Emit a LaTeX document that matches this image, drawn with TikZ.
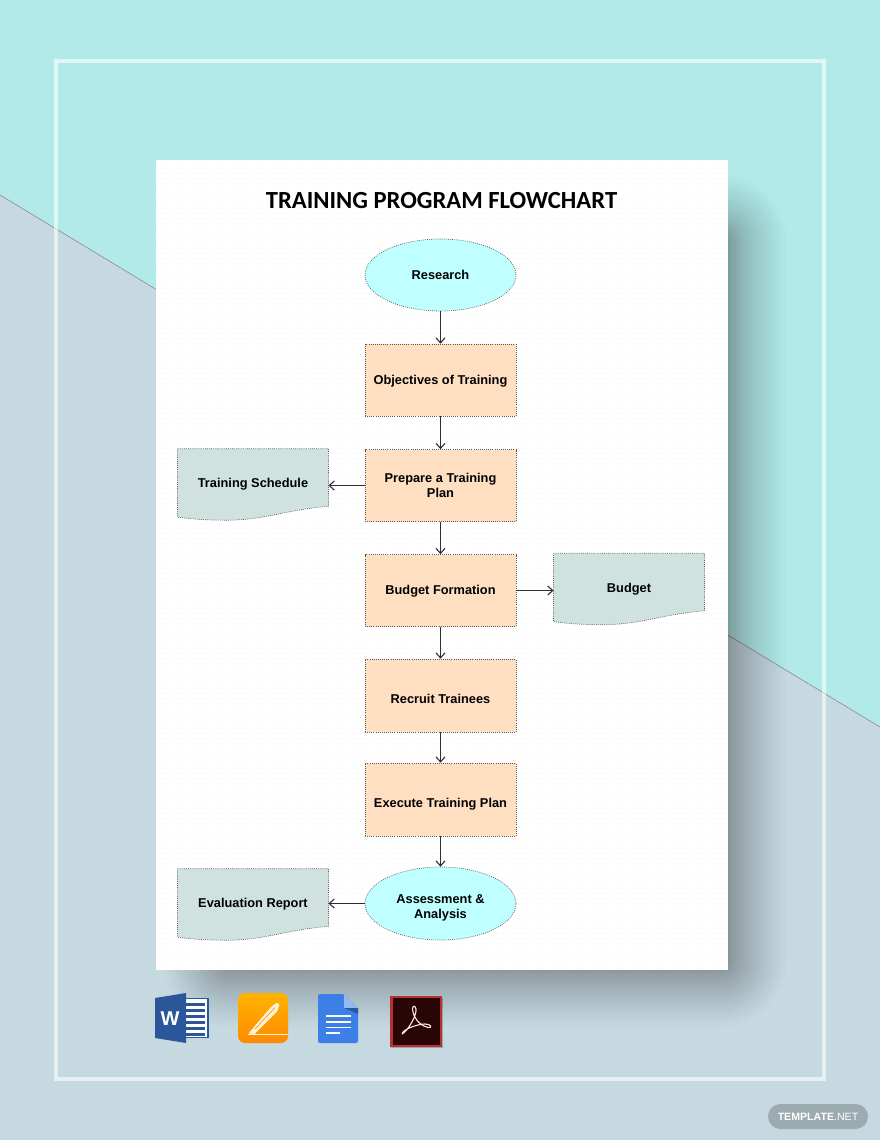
\documentclass[tikz,border=0pt]{standalone}
\usepackage{fontspec}
\setmainfont{Liberation Sans}
\newfontfamily\titlefont{Carlito}
\usetikzlibrary{arrows.meta,calc,shapes.geometric}
\definecolor{teal0}{HTML}{B2E9E9}
\definecolor{slate0}{HTML}{C6D9E0}
\definecolor{ovalfill}{HTML}{BFFFFF}
\definecolor{boxfill}{HTML}{FFDFC2}
\definecolor{docfill}{HTML}{CFE2DF}
\definecolor{edge}{HTML}{5A5A5A}
\definecolor{linkc}{HTML}{2E2E2E}
\definecolor{wordblue}{HTML}{2B579A}
\definecolor{gdoc}{HTML}{3C7FE6}
\definecolor{pgtop}{HTML}{FFB300}
\definecolor{pgbot}{HTML}{FF8A00}
\definecolor{pgpen}{HTML}{FFF3D6}
\definecolor{acrobg}{HTML}{2A0505}
\definecolor{acroedge}{HTML}{B83030}
\newcommand{\tx}[2][-1.5pt]{\raisebox{#1}[\height][\depth]{\begin{tabular}{@{}c@{}}#2\end{tabular}}}
\tikzset{
  lbl/.style={font=\fontsize{12.8}{14.4}\selectfont\bfseries,text=black},
  dotline/.style={draw=edge,line width=.65pt,dash pattern=on .9pt off 1.2pt},
  oval/.style={ellipse,dotline,fill=ovalfill,minimum width=151pt,minimum height=72pt,inner sep=0pt,lbl},
  stepbox/.style={rectangle,dotline,fill=boxfill,minimum width=151pt,minimum height=72pt,inner sep=0pt,lbl},
  docbox/.style={rectangle,minimum width=150.5pt,minimum height=71pt,inner sep=0pt},
  docshape/.style={dotline,fill=docfill},
  link/.style={draw=linkc,line width=1.1pt,-{Straight Barb[length=5pt,width=9pt,line width=1.1pt]}},
}
\newcommand{\docshapeat}[1]{%
  \path[docshape] (#1.north west) -- (#1.north east)
    -- ($(#1.south east)+(0,-14)$)
    .. controls ($(#1.south east)+(-50,-9)$) and ($(#1.south east)+(-60,-1)$) .. ($(#1.south west)+(52,0)$)
    .. controls ($(#1.south west)+(30,0)$) and ($(#1.south west)+(15,-1)$) .. ($(#1.south west)+(0,-3)$)
    -- cycle;}
\begin{document}
\begin{tikzpicture}[x=1pt,y=-1pt]
\useasboundingbox (0,0) rectangle (880,1140);
% background
\fill[teal0] (0,0) rectangle (880,1140);
\fill[slate0] (0,195) -- (880,727) -- (880,1140) -- (0,1140) -- cycle;
\draw[black!45,line width=.6pt] (0,195) -- (880,727);
% frame
\draw[white,opacity=.6,line width=4pt] (56,61) rectangle (824,1079);
% shadow
\foreach \j in {0,...,29}{
  \pgfmathsetmacro{\k}{62*(\j/30)^1.7}
  \pgfmathsetmacro{\r}{\k+8}
  \fill[black,opacity=.0105,rounded corners=\r pt] (222-\k,233-\k) rectangle (728+\k,968+\k);
}
% page
\fill[white] (156,160) rectangle (728,970);
\foreach \y in {163,168,...,968}{
  \draw[black!1.5,line width=.6pt,dash pattern=on 3pt off 2pt] (156,\y) -- (728,\y);
}
\node[font=\titlefont\bfseries\fontsize{24.6}{27}\selectfont,text=black] (title) at (441.5,200.5) {TRAINING PROGRAM FLOWCHART};
% nodes
\node[oval] (research) at (440.5,275) {\tx{Research}};
\node[stepbox] (objectives) at (440.5,380) {\tx{Objectives of Training}};
\node[stepbox] (prepare) at (440.5,485.5) {\tx{Prepare a Training\\Plan}};
\node[stepbox] (budget) at (440.5,590.5) {\tx{Budget Formation}};
\node[stepbox,minimum height=73pt] (recruit) at (440.5,695.5) {\tx[-5pt]{Recruit Trainees}};
\node[stepbox,minimum height=73pt] (execute) at (440.5,799.5) {\tx[-5pt]{Execute Training Plan}};
\node[oval,minimum height=73pt] (assess) at (440.5,903.5) {\tx[-4.5pt]{Assessment \&\\Analysis}};
% documents
\node[docbox] (schedule0) at (253,484.5) {};
\docshapeat{schedule0}
\node[lbl] (schedule) at (253,483) {\tx{Training Schedule}};
\node[docbox] (budgetdoc0) at (629,589) {};
\docshapeat{budgetdoc0}
\node[lbl] (budgetdoc) at (629,588) {\tx{Budget}};
\node[docbox] (report0) at (253,904.5) {};
\docshapeat{report0}
\node[lbl] (report) at (253,903.5) {\tx{Evaluation Report}};
% connectors
\draw[link] (research) -- (objectives);
\draw[link] (objectives) -- (prepare);
\draw[link] (prepare) -- (budget);
\draw[link] (budget) -- (recruit);
\draw[link] (recruit) -- (execute);
\draw[link] (execute) -- (assess);
\draw[link] (prepare.west) -- (prepare.west -| schedule0.east);
\draw[link] (budget.east) -- (budget.east -| budgetdoc0.west);
\draw[link] (assess.west) -- (assess.west -| report0.east);
% Word icon
\fill[white] (184,998) rectangle (208,1038);
\foreach \y in {1003,1009,1015,1021,1027,1033}{\fill[wordblue] (186,\y) rectangle (205,\y+2.6);}
\draw[wordblue,line width=1.4pt] (184,998.7) -- (208,998.7) -- (208,1037.3) -- (184,1037.3);
\fill[wordblue] (155,998) -- (186,993) -- (186,1043) -- (155,1038) -- cycle;
\node[text=white,font=\bfseries\fontsize{20}{20}\selectfont,inner sep=0pt] (wordw) at (170,1018.5) {W};
% Pages icon
\shade[rounded corners=7pt,top color=pgtop,bottom color=pgbot] (238,993) rectangle (288,1043);
\fill[pgpen,rounded corners=1pt] (248.5,1033.5) -- (271,1007) -- (277,1002.5) -- (279.5,1004.5) -- (277.5,1011) -- (254,1034.5) -- cycle;
\draw[pgbot,line width=.6pt] (255,1029) -- (275,1007.5);
\draw[pgpen,line width=1.2pt] (248,1034.5) -- (288,1034.5);
% Docs icon
\fill[gdoc,rounded corners=2pt] (318,994) -- (344,994) -- (358,1008) -- (358,1043) -- (318,1043) -- cycle;
\fill[gdoc!55!white] (344,994) -- (358,1008) -- (344,1008) -- cycle;
\fill[gdoc!70!black] (344,1008) -- (358,1008) -- (358,1014) -- cycle;
\foreach \y/\e in {1015/351,1021/351,1026.5/351,1032/340}{\fill[white] (326,\y) rectangle (\e,\y+1.8);}
% Acrobat icon
\fill[black,opacity=.22] (391,998) rectangle (443,1048);
\draw[fill=acrobg,draw=acroedge,line width=2.4pt] (391.5,997) rectangle (441,1046);
\draw[white!90!red,line width=1.1pt,line join=round]
  (402,1034) .. controls (408,1031) and (417,1015) .. (416,1009)
  .. controls (415,1004) and (411,1006) .. (413,1012)
  .. controls (415,1020) and (421,1026) .. (428,1027.5)
  .. controls (433,1028) and (431,1024) .. (425,1024)
  .. controls (418,1024) and (403,1029) .. (402,1034) -- cycle;
% badge
\fill[black!70!slate0,opacity=.3,rounded corners=12.5pt] (768,1104) rectangle (868,1129);
\node[text=white,font=\fontsize{10.6}{12}\selectfont,inner sep=0pt] (badge) at (818,1116.5) {\textbf{TEMPLATE}.NET};
\end{tikzpicture}
\end{document}
